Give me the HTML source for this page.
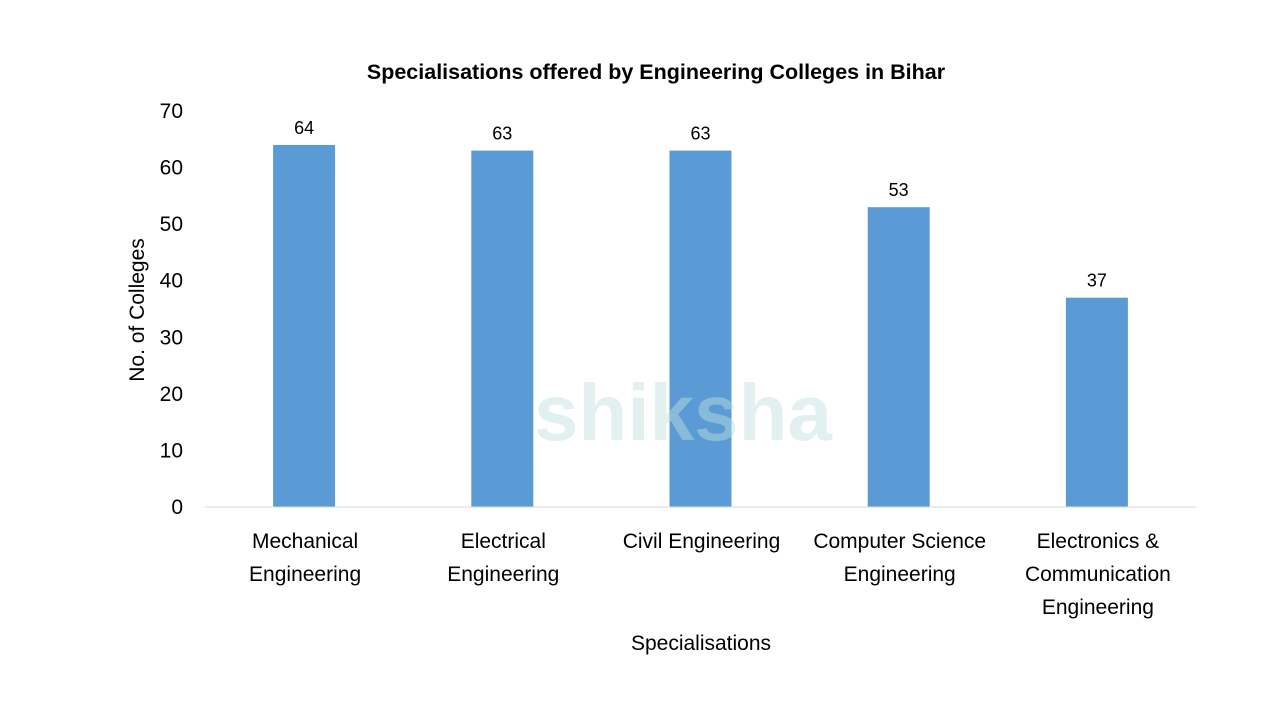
<!DOCTYPE html>
<html><head><meta charset="utf-8">
<style>
body{margin:0;background:#fff;}
svg{display:block;font-family:"Liberation Sans",sans-serif;}
</style></head>
<body>
<svg id="chart" width="1280" height="720">
<rect width="1280" height="720" fill="#fff"/>
<text x="656" y="79" text-anchor="middle" font-size="21.5" font-weight="bold" fill="#000">Specialisations offered by Engineering Colleges in Bihar</text>
<g id="yticks"></g>
<g id="bars"></g>
<text x="683" y="440" text-anchor="middle" font-size="80" font-weight="bold" fill="#bfe0e0" opacity="0.45">shiksha</text>
<line x1="205" y1="507" x2="1196" y2="507" stroke="#d9d9d9" stroke-width="1"/>
<g id="xlabels"></g>
<text transform="translate(144,310) rotate(-90)" text-anchor="middle" font-size="21" fill="#000">No. of Colleges</text>
<text x="701" y="650" text-anchor="middle" font-size="21" fill="#000">Specialisations</text>
</svg>
<script>
const categories = [["Mechanical","Engineering"],["Electrical","Engineering"],["Civil Engineering"],["Computer Science","Engineering"],["Electronics &","Communication","Engineering"]];
const values = [64,63,63,53,37];
const yTicks = [0,10,20,30,40,50,60,70];
const NS="http://www.w3.org/2000/svg";
const x0=205,x1=1196,yBase=507,yTop=111,yMax=70,barW=62;
const slot=(x1-x0)/categories.length;
const xc=i=>x0+slot*(i+0.5);
const y=v=>yBase-(v/yMax)*(yBase-yTop);
function mk(tag,attrs,parent,txt){const e=document.createElementNS(NS,tag);for(const k in attrs)e.setAttribute(k,attrs[k]);if(txt!==undefined)e.textContent=txt;parent.appendChild(e);return e;}
const yt=document.getElementById('yticks');
yTicks.forEach(t=>{
  const e=mk('text',{x:183,y:y(t)+7,'text-anchor':'end','font-size':21,fill:'#000'},yt,t);
  
  
});
const bg=document.getElementById('bars');
values.forEach((v,i)=>{
  const r=mk('rect',{x:xc(i)-barW/2,y:y(v),width:barW,height:yBase-y(v),fill:'#5b9bd5'},bg);
  
  
  const l=mk('text',{x:xc(i),y:y(v)-11,'text-anchor':'middle','font-size':18,fill:'#000'},bg,v);
  
  
});
const xl=document.getElementById('xlabels');
categories.forEach((c,i)=>{
  c.forEach((line,j)=>{
    const e=mk('text',{x:xc(i)+1,y:548+j*33,'text-anchor':'middle','font-size':21,fill:'#000'},xl,line);
    
    
  });
});
</script>
</body></html>
